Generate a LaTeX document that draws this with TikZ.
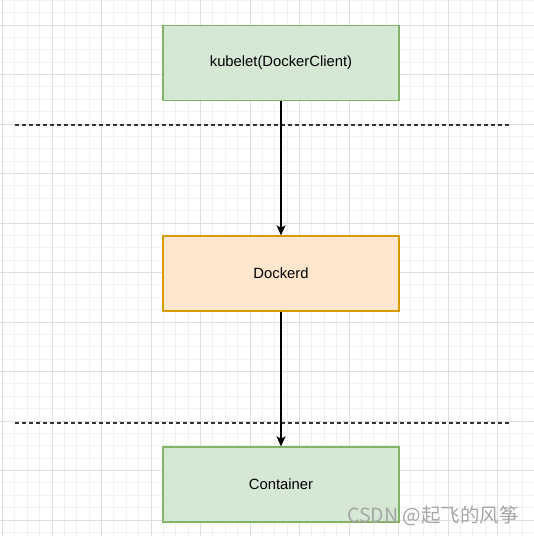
\documentclass[tikz,border=0pt]{standalone}
\usepackage{fontspec}
\setmainfont{Liberation Sans}
\newfontfamily\cjk{Noto Sans CJK SC}
\usetikzlibrary{arrows.meta}
\definecolor{gminor}{HTML}{F1F1F1}
\definecolor{gmajor}{HTML}{DFDFDF}
\definecolor{greenfill}{HTML}{D5E8D4}
\definecolor{greenline}{HTML}{82B366}
\definecolor{orangefill}{HTML}{FFE6CC}
\definecolor{orangeline}{HTML}{D79B00}
\tikzset{
  boxg/.style={draw=greenline, fill=greenfill, line width=1.3pt, minimum width=236pt, minimum height=75pt, inner sep=0pt, font=\fontsize{14.8}{17}\selectfont},
  boxo/.style={draw=orangeline, fill=orangefill, line width=1.3pt, minimum width=236pt, minimum height=75pt, inner sep=0pt, font=\fontsize{14.8}{17}\selectfont},
  sep/.style={draw=black!80, line width=1.4pt, dash pattern=on 4pt off 3pt},
  flow/.style={draw=black, line width=1.3pt, -{Stealth[length=10pt,width=9pt,inset=2.5pt]}}
}
\begin{document}
\begin{tikzpicture}[x=1pt,y=-1pt]
\useasboundingbox (0,0) rectangle (534,536);
\fill[white] (0,0) rectangle (534,536);
% minor grid
\foreach \i in {0,...,43} {
  \pgfmathsetmacro\gx{2.5+12.375*\i}
  \draw[gminor, line width=1pt] (\gx,0) -- (\gx,536);
  \pgfmathsetmacro\gy{0.25+12.375*\i}
  \draw[gminor, line width=1pt] (0,\gy) -- (534,\gy);
}
% major grid
\foreach \i in {0,...,10} {
  \pgfmathsetmacro\gx{2.5+49.5*\i}
  \draw[gmajor, line width=1pt] (\gx,0) -- (\gx,536);
  \pgfmathsetmacro\gy{25+49.5*\i}
  \draw[gmajor, line width=1pt] (0,\gy) -- (534,\gy);
}
% separators
\coordinate (s1a) at (15,125);
\coordinate (s1b) at (510,125);
\coordinate (s2a) at (15,423);
\coordinate (s2b) at (510,423);
\draw[sep] (s1a) -- (s1b);
\draw[sep] (s2a) -- (s2b);
% boxes
\node[boxg] (kubelet) at (281,63) {kubelet(DockerClient)};
\node[boxo] (dockerd) at (281,273.5) {Dockerd};
\node[boxg] (container) at (281,484.5) {Container};
% arrows
\draw[flow] (kubelet.south) -- (dockerd.north);
\draw[flow] (dockerd.south) -- (container.north);
% watermark
\node[anchor=east, text=black!35, font=\cjk\fontsize{19.5}{22}\selectfont, inner sep=0pt] (wm) at (519,516) {CSDN @起飞的风筝};
\end{tikzpicture}
\end{document}
